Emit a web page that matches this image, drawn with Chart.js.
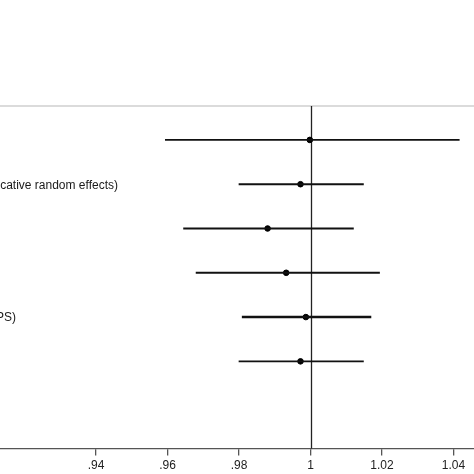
<!DOCTYPE html>
<html>
<head>
<meta charset="utf-8">
<script src="https://cdn.jsdelivr.net/npm/chart.js@4/dist/chart.umd.min.js"></script>
<style>
  html, body { margin: 0; padding: 0; background: #fff; }
  #wrap { width: 474px; height: 474px; }
</style>
</head>
<body>
<div id="wrap"><canvas id="myChart"></canvas></div>
<script>
// rows, top to bottom
const rows = [1, 2, 3, 4, 5, 6];
const estimates = [0.9998, 0.9972, 0.9880, 0.9932, 0.9987, 0.9972];
const lower = [0.9593, 0.9799, 0.9644, 0.9679, 0.9808, 0.9799];
const upper = [1.0417, 1.0149, 1.0121, 1.0194, 1.0170, 1.0149];
const tickValues = [0.94, 0.96, 0.98, 1, 1.02, 1.04];
// only the ends of the row labels are visible in the cropped figure
const rowLabels = ["", "cative random effects)", "", "", "PS)", ""];
const labelRight = [0, 118, 0, 0, 16, 0];

const datasets = rows.map((r, i) => ({
  type: "line",
  data: [{ x: lower[i], y: r }, { x: upper[i], y: r }],
  borderColor: "#111",
  borderWidth: i === 4 ? 2.4 : 1.9,
  pointRadius: 0,
  fill: false,
}));
datasets.push({
  type: "scatter",
  data: rows.map((r, i) => ({ x: estimates[i], y: r })),
  backgroundColor: "#000",
  borderColor: "#000",
  pointRadius: 2.8,
});

const framePlugin = {
  id: "frame",
  beforeDatasetsDraw(chart) {
    const { ctx, chartArea, scales } = chart;
    ctx.save();
    // top rule
    ctx.strokeStyle = "#cfcfcf";
    ctx.lineWidth = 1.5;
    ctx.beginPath();
    ctx.moveTo(0, chartArea.top);
    ctx.lineTo(chart.width, chartArea.top);
    ctx.stroke();
    // null line at 1
    const x1 = Math.round(scales.x.getPixelForValue(1)) + 0.5;
    ctx.strokeStyle = "#222";
    ctx.lineWidth = 1.3;
    ctx.beginPath();
    ctx.moveTo(x1, chartArea.top);
    ctx.lineTo(x1, chartArea.bottom);
    ctx.stroke();
    // row labels
    ctx.fillStyle = "#1a1a1a";
    ctx.font = "12px 'Liberation Sans', Arial, sans-serif";
    ctx.textAlign = "right";
    ctx.textBaseline = "middle";
    rowLabels.forEach((t, i) => {
      if (!t) return;
      ctx.fillText(t, chartArea.left + labelRight[i], scales.y.getPixelForValue(rows[i]) + 1);
    });
    ctx.restore();
  },
};

const ctx = document.getElementById("myChart").getContext("2d");
const myChart = new Chart(ctx, {
  data: { datasets: datasets },
  options: {
    responsive: true,
    maintainAspectRatio: false,
    animation: false,
    layout: { autoPadding: false, padding: { top: 106, left: 0, right: 0, bottom: -2 } },
    plugins: { legend: { display: false }, tooltip: { enabled: false } },
    scales: {
      x: {
        type: "linear",
        min: 0.91315,
        max: 1.04573,
        afterBuildTicks: (axis) => {
          axis.ticks = tickValues.map((v) => ({ value: v }));
        },
        afterFit: (axis) => {
          axis.paddingLeft = 0;
          axis.paddingRight = 0;
        },
        ticks: {
          color: "#222",
          font: { family: "'Liberation Sans', Arial, sans-serif", size: 12 },
          padding: 3,
          maxRotation: 0,
          callback: (v) => String(v).replace(/^0\./, "."),
        },
        grid: {
          drawOnChartArea: false,
          drawTicks: true,
          tickLength: 7,
          color: "#555",
          lineWidth: 1.3,
        },
        border: { display: true, color: "#555", width: 1.3 },
      },
      y: {
        type: "linear",
        display: false,
        reverse: true,
        min: 0.234,
        max: 7.97,
      },
    },
  },
  plugins: [framePlugin],
});
</script>
</body>
</html>
